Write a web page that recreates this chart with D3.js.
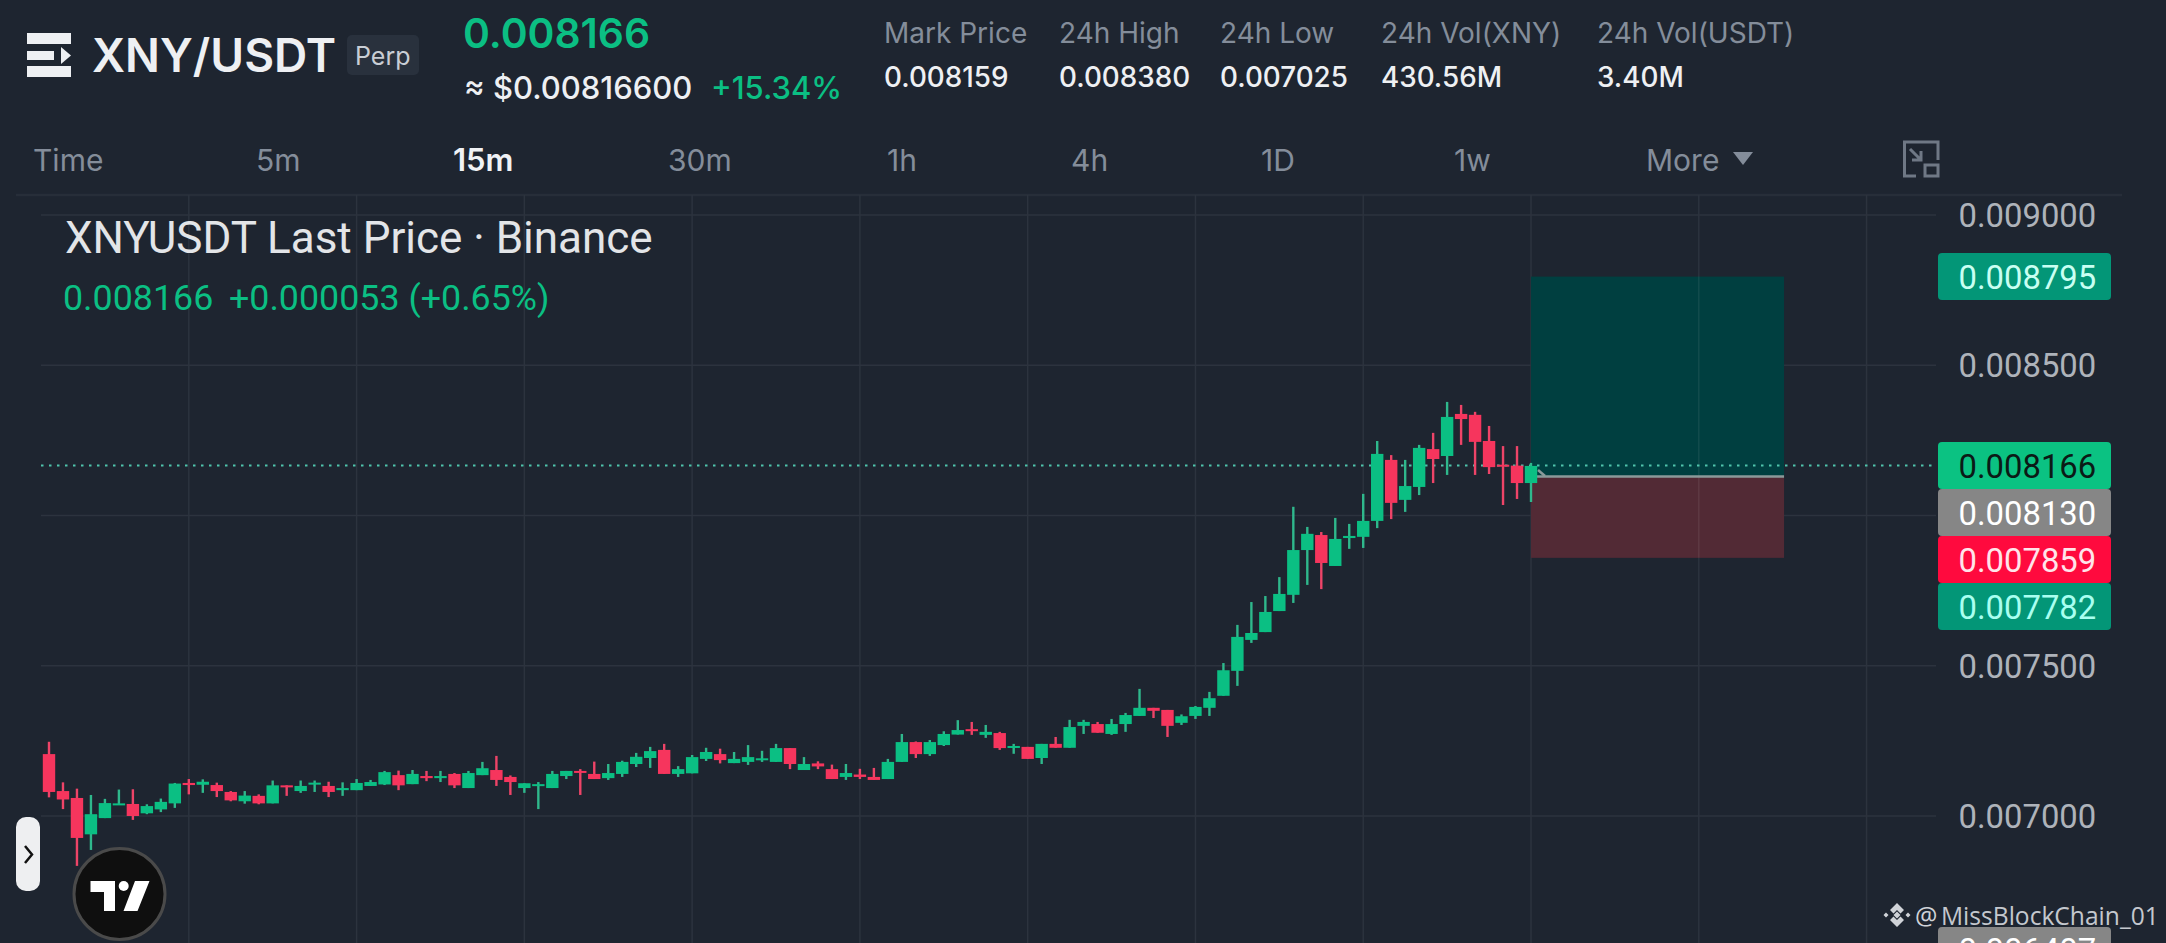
<!DOCTYPE html>
<html>
<head>
<meta charset="utf-8">
<script src="https://cdn.jsdelivr.net/npm/d3@7/dist/d3.min.js"></script>
<style>
html,body{margin:0;padding:0;background:#1e2530;overflow:hidden}
svg{display:block}
</style>
</head>
<body>
<svg id="c" width="2166" height="943"></svg>
<script>
// Candle values, in millionths of USDT
const opens = [7206,7083,7060,6939,6993,7037,7040,7009,7022,7042,7110,7104,7103,7080,7049,7067,7042,7102,7083,7106,7100,7086,7086,7100,7105,7136,7106,7133,7126,7140,7093,7136,7153,7130,7093,7100,7093,7133,7150,7140,7126,7140,7173,7193,7220,7140,7142,7190,7206,7176,7180,7186,7180,7226,7153,7175,7156,7130,7138,7130,7123,7180,7246,7206,7236,7271,7289,7270,7276,7227,7230,7193,7240,7227,7300,7306,7273,7306,7333,7360,7353,7310,7333,7360,7400,7483,7586,7612,7682,7736,7885,7935,7832,7925,7929,7982,8185,8052,8095,8221,8198,8338,8335,8248,8169,8166,8108];
const highs = [7247,7112,7091,7070,7057,7088,7089,7039,7058,7110,7123,7122,7111,7083,7083,7072,7118,7102,7118,7118,7114,7112,7123,7120,7150,7151,7153,7150,7150,7143,7150,7180,7200,7135,7109,7113,7150,7150,7156,7181,7173,7184,7210,7230,7240,7166,7203,7227,7224,7213,7236,7217,7240,7226,7196,7182,7171,7173,7157,7160,7190,7273,7248,7253,7282,7319,7313,7303,7280,7240,7230,7240,7263,7320,7320,7313,7323,7343,7423,7360,7353,7338,7366,7413,7509,7636,7712,7732,7795,8029,7962,7945,7992,7972,8072,8248,8201,8185,8235,8275,8378,8368,8345,8298,8231,8231,8175];
const lows = [7062,7023,6834,6887,6993,7037,6987,7006,7013,7027,7072,7077,7063,7049,7041,7039,7042,7067,7077,7080,7063,7067,7086,7100,7103,7086,7106,7116,7113,7093,7093,7136,7100,7070,7077,7023,7093,7123,7070,7123,7120,7130,7163,7160,7140,7130,7142,7183,7175,7176,7170,7180,7180,7156,7153,7156,7123,7120,7123,7120,7123,7180,7193,7200,7233,7271,7270,7260,7220,7207,7190,7173,7227,7227,7273,7277,7270,7280,7333,7326,7263,7303,7323,7333,7400,7433,7576,7612,7682,7709,7769,7755,7832,7889,7892,7958,7988,8012,8068,8108,8135,8235,8135,8138,8035,8055,8045];
const closes = [7080,7055,6927,7006,7043,7042,7000,7033,7047,7108,7103,7114,7083,7052,7068,7042,7102,7096,7100,7111,7080,7093,7110,7113,7146,7102,7140,7126,7133,7102,7143,7159,7120,7113,7109,7106,7140,7150,7144,7123,7143,7180,7197,7216,7140,7156,7196,7213,7186,7190,7196,7192,7226,7173,7173,7165,7123,7143,7130,7120,7180,7246,7206,7246,7273,7286,7283,7280,7226,7233,7190,7240,7227,7296,7313,7277,7306,7336,7360,7350,7300,7332,7363,7392,7485,7596,7609,7679,7739,7885,7939,7842,7922,7932,7982,8205,8042,8098,8225,8188,8328,8321,8245,8161,8163,8108,8165];
const priceTicks = [7000,7500,8000,8500,9000];
const timeGridIndex = [10,22,34,46,58,70,82,94,106,118,130];
const lastPrice = 8166;
const takeProfit = 8795, entry = 8130, stopLoss = 7859, targetLine = 7782;
const boxStartIndex = 106, boxEndIndex = 124.1;
const priceTags = [
  {v:8795,t:"0.008795",bg:"#039677",fg:"#c8fff2"},
  {v:8166,t:"0.008166",bg:"#0bc282",fg:"#0b1a16"},
  {v:8130,t:"0.008130",bg:"#868686",fg:"#ffffff"},
  {v:7859,t:"0.007859",bg:"#ff0a3e",fg:"#ffe4ea"},
  {v:7782,t:"0.007782",bg:"#039677",fg:"#a8fff0"}
];
const tabs = [["Time",33],["5m",256],["15m",453],["30m",668],["1h",887],["4h",1071],["1D",1261],["1w",1454],["More",1646]];
const stats = [["Mark Price","0.008159",884],["24h High","0.008380",1059],["24h Low","0.007025",1220],["24h Vol(XNY)","430.56M",1381],["24h Vol(USDT)","3.40M",1597]];

const GREEN="#0bbf83", RED="#f6355d", GRID="#2c333e", MUTED="#848d9a";
const svg=d3.select("#c");
const x=d3.scaleLinear().domain([0,106]).range([49,1531]);
const y=d3.scaleLinear().domain([7000,9000]).range([816,215]);
const head="Inter, 'Open Sans', sans-serif", rob="Roboto, sans-serif";

function txt(g,xp,yp,s,size,fill,fam,weight,anchor){
  return g.append("text").attr("x",xp).attr("y",yp).text(s).attr("font-size",size).attr("fill",fill)
    .attr("font-family",fam).attr("font-weight",weight||400).attr("text-anchor",anchor||"start");
}

// Header separator + grid
svg.append("line").attr("x1",16).attr("x2",2122).attr("y1",195).attr("y2",195).attr("stroke","#272e39").attr("stroke-width",2.5);
const gGrid=svg.append("g");
gGrid.selectAll("line.v").data(timeGridIndex).join("line").attr("class","v")
  .attr("x1",d=>x(d)).attr("x2",d=>x(d)).attr("y1",195).attr("y2",943).attr("stroke",GRID).attr("stroke-width",1.5);
gGrid.selectAll("line.h").data(priceTicks).join("line").attr("class","h")
  .attr("x1",41).attr("x2",1936).attr("y1",d=>y(d)).attr("y2",d=>y(d)).attr("stroke",GRID).attr("stroke-width",1.5);

// Position tool
const bx0=x(boxStartIndex), bw=x(boxEndIndex)-bx0;
svg.append("rect").attr("x",bx0).attr("y",y(takeProfit)).attr("width",bw).attr("height",y(entry)-y(takeProfit)).attr("fill","#003f40");
svg.append("rect").attr("x",bx0).attr("y",y(entry)).attr("width",bw).attr("height",y(stopLoss)-y(entry)).attr("fill","#522a35");
// grid line showing through the boxes
svg.append("line").attr("x1",x(118)).attr("x2",x(118)).attr("y1",y(takeProfit)).attr("y2",y(stopLoss)).attr("stroke","#ffffff").attr("stroke-opacity",.07).attr("stroke-width",1.5);
svg.append("line").attr("x1",bx0).attr("x2",bx0+bw).attr("y1",y(entry)).attr("y2",y(entry)).attr("stroke","#8b9a9a").attr("stroke-width",2.5);
svg.append("path").attr("d",`M${bx0+7},470 L${bx0+14},476`).attr("stroke","#8b9a9a").attr("stroke-width",2.5).attr("fill","none");

// Last price dotted line
svg.append("line").attr("x1",41).attr("x2",1936).attr("y1",y(lastPrice)).attr("y2",y(lastPrice))
  .attr("stroke","#4fc4ab").attr("stroke-width",2).attr("stroke-dasharray","2.5 5.5");

// Candles
const candles=opens.map((o,i)=>({i,o,h:highs[i],l:lows[i],c:closes[i]}));
const gc=svg.append("g");
gc.selectAll("line").data(candles).join("line")
  .attr("x1",d=>x(d.i)).attr("x2",d=>x(d.i)).attr("y1",d=>y(d.h)).attr("y2",d=>y(d.l))
  .attr("stroke",d=>d.c>=d.o?"#2fb88c":"#ee4468").attr("stroke-width",2.4);
gc.selectAll("rect").data(candles).join("rect")
  .attr("x",d=>x(d.i)-6.2).attr("width",12.4)
  .attr("y",d=>y(Math.max(d.o,d.c)))
  .attr("height",d=>Math.max(2,Math.abs(y(d.o)-y(d.c))))
  .attr("fill",d=>d.c>=d.o?GREEN:RED);

// Price axis
const axis=d3.axisRight(y).tickValues(priceTicks).tickSize(0).tickPadding(0).tickFormat(d=>(d/1e6).toFixed(6));
const ga=svg.append("g").attr("transform","translate(1958.5,1.2)").call(axis);
ga.select(".domain").remove();
ga.selectAll("text").attr("font-family",rob).attr("font-size",32.8).attr("fill","#aeb3ba");

// Price tags stacked like the source
let prev=-Infinity;
const gt=svg.append("g");
priceTags.forEach(p=>{
  const cy=Math.max(y(p.v),prev+47); prev=cy;
  gt.append("rect").attr("x",1938).attr("width",173).attr("y",cy-23.5).attr("height",47).attr("rx",4).attr("fill",p.bg);
  txt(gt,1958.5,cy+12.5,p.t,32.8,p.fg,rob);
});
gt.append("rect").attr("x",1938).attr("width",173).attr("y",927).attr("height",40).attr("rx",4).attr("fill","#868686");
txt(gt,1958.5,962,"0.006407",32.8,"#ffffff",rob);

// Header
const h=svg.append("g");
h.append("rect").attr("x",27).attr("y",33).attr("width",44).attr("height",11).attr("fill","#eef0f3");
h.append("rect").attr("x",27).attr("y",51).attr("width",27).attr("height",9).attr("fill","#eef0f3");
h.append("path").attr("d","M61,47 L71,55.5 L61,64 Z").attr("fill","#eef0f3");
h.append("rect").attr("x",27).attr("y",66).attr("width",44).attr("height",11).attr("fill","#eef0f3");
txt(h,92,72,"XNY/USDT",46,"#eef0f3",head,600);
h.append("rect").attr("x",347).attr("y",35).attr("width",72).attr("height",40).attr("rx",5).attr("fill","#29313d");
txt(h,355,65,"Perp",25,"#c9ced5",head,400);
txt(h,463,48,"0.008166",40.8,GREEN,head,600);
txt(h,464,99,"≈ $0.00816600",31,"#eef0f3",head,500);
txt(h,711,99,"+15.34%",31,GREEN,head,500);
h.selectAll("text.sl").data(stats).join("text").attr("class","sl").attr("x",d=>d[2]).attr("y",43).text(d=>d[0])
  .attr("font-size",28).attr("fill",MUTED).attr("font-family",head);
h.selectAll("text.sv").data(stats).join("text").attr("class","sv").attr("x",d=>d[2]).attr("y",87).text(d=>d[1])
  .attr("font-size",27.8).attr("fill","#eef0f3").attr("font-family",head).attr("font-weight",500);
h.selectAll("text.tb").data(tabs).join("text").attr("class","tb").attr("x",d=>d[1]).attr("y",171).text(d=>d[0])
  .attr("font-size",d=>d[0]==="15m"?31:30).attr("font-family",head)
  .attr("fill",d=>d[0]==="15m"?"#f0f2f5":MUTED).attr("font-weight",d=>d[0]==="15m"?600:400);
h.append("path").attr("d","M1733,152 L1753,152 L1743,165 Z").attr("fill",MUTED);
// resize icon
const ic=h.append("g").attr("fill","none").attr("stroke","#6f7885").attr("stroke-width",3);
ic.append("path").attr("d","M1916,176 H1904.5 V142 H1938 V160");
ic.append("rect").attr("x",1925).attr("y",165).attr("width",13).attr("height",11);
ic.append("path").attr("d","M1910,149 L1921,160 M1921,151 V160 H1912");

// Legend
txt(svg,65,253,"XNYUSDT Last Price · Binance",44,"#e3e5e8",rob);
txt(svg,63,310,"0.008166",35.8,GREEN,rob);
txt(svg,229,310,"+0.000053 (+0.65%)",35.8,GREEN,rob);

// Side handle
svg.append("rect").attr("x",16).attr("y",817).attr("width",24).attr("height",74).attr("rx",10).attr("fill","#eeeff1");
svg.append("path").attr("d","M25,846 L32,854.5 L25,863").attr("fill","none").attr("stroke","#111").attr("stroke-width",2.5);

// TradingView badge
svg.append("circle").attr("cx",119.5).attr("cy",894).attr("r",45.5).attr("fill","#0f0f0f").attr("stroke","#4a4a4a").attr("stroke-width",3);
svg.append("path").attr("fill","#fff").attr("d","M90.5,881 H115 V911 H104 V892 H90.5 Z M135,881 H149.5 L137.5,911 H123.5 Z");
svg.append("circle").attr("cx",123.7).attr("cy",886).attr("r",5).attr("fill","#fff");

// Watermark
const w=svg.append("g").attr("fill","#d0d3d8");
w.append("path").attr("fill-rule","evenodd").attr("d","M1897,903 L1904,910 L1900.5,913.5 L1897,910 L1893.5,913.5 L1890,910 Z M1897,927 L1904,920 L1900.5,916.5 L1897,920 L1893.5,916.5 L1890,920 Z M1897,911.5 L1900.5,915 L1897,918.5 L1893.5,915 Z M1886,912.5 L1888.5,915 L1886,917.5 L1883.5,915 Z M1908,912.5 L1910.5,915 L1908,917.5 L1905.5,915 Z");
txt(svg,1915,925,"@",25,"#d0d3d8","'Open Sans', sans-serif");
txt(svg,1941,925,"MissBlockChain_01",24.6,"#c4c8ce","'Open Sans', sans-serif");
</script>
</body>
</html>
